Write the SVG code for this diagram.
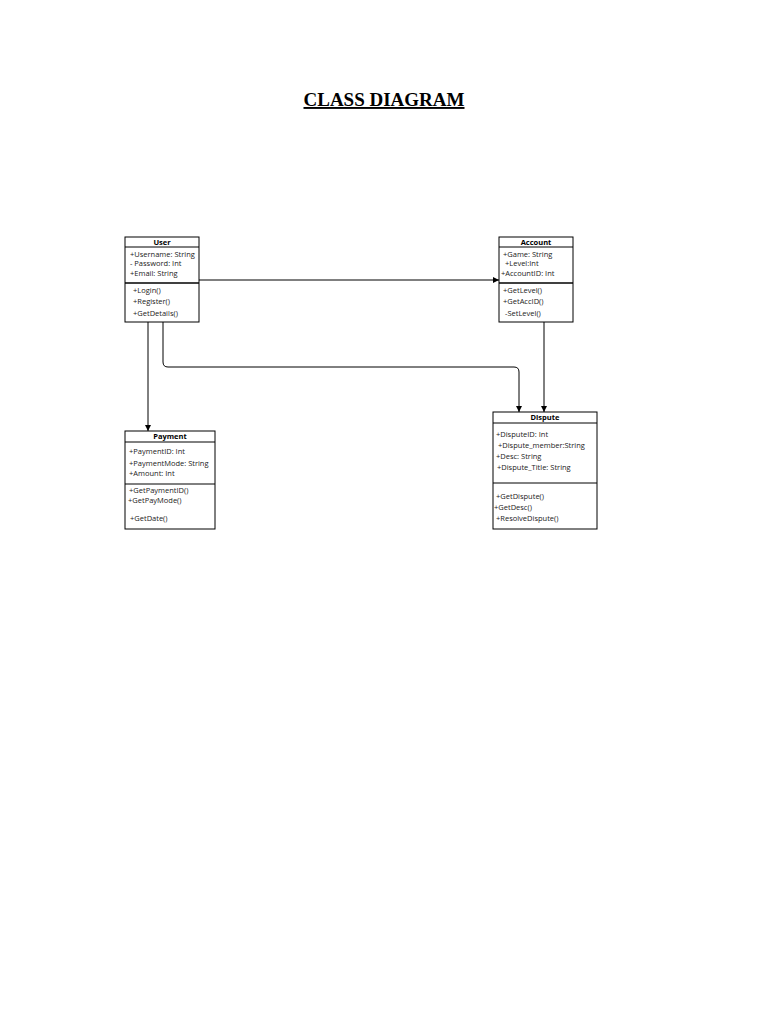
<svg xmlns="http://www.w3.org/2000/svg" width="768" height="1024" viewBox="0 0 768 1024">
<defs>
<marker id="ah" viewBox="0 0 10 10" refX="10" refY="5" markerWidth="6" markerHeight="6" orient="auto"><path d="M0,0L10,5L0,10z" fill="#000"/></marker>
<style>
.box{fill:#fff;stroke:#000;stroke-width:1}
.t{font-family:"Open Sans","Liberation Sans",sans-serif;font-size:7.5px;fill:#222}
.h{font-family:"Open Sans","Liberation Sans",sans-serif;font-size:7.5px;font-weight:bold;fill:#000}
.c{fill:none;stroke:#000;stroke-width:1;marker-end:url(#ah)}
</style>
</defs>
<rect width="768" height="1024" fill="#fff"/>
<text x="384" y="106" text-anchor="middle" font-family="Liberation Serif,serif" font-size="19" font-weight="bold" text-decoration="underline">CLASS DIAGRAM</text>
<g id="connectors">
<path class="c" d="M199,280H499"/>
<path class="c" d="M148,322V431"/>
<path class="c" d="M163,322V362Q163,367 168,367H514Q519,367 519,372V412"/>
<path class="c" d="M544,322V412"/>
</g>
<g id="user">
<rect class="box" x="125" y="237" width="74" height="85"/>
<line x1="125" y1="247" x2="199" y2="247" stroke="#000"/>
<line x1="125" y1="283" x2="199" y2="283" stroke="#000" stroke-width="1.6"/>
<text class="h" x="162" y="244.5" text-anchor="middle">User</text>
<text class="t" x="130" y="257">+Username: String</text>
<text class="t" x="130" y="266">- Password: Int</text>
<text class="t" x="130" y="276">+Email: String</text>
<text class="t" x="133" y="293">+Login()</text>
<text class="t" x="133" y="304">+Register()</text>
<text class="t" x="133" y="316">+GetDetails()</text>
</g>
<g id="account">
<rect class="box" x="499" y="237" width="74" height="85"/>
<line x1="499" y1="247" x2="573" y2="247" stroke="#000"/>
<line x1="499" y1="283" x2="573" y2="283" stroke="#000" stroke-width="1.6"/>
<text class="h" x="536" y="244.5" text-anchor="middle">Account</text>
<text class="t" x="503" y="257">+Game: String</text>
<text class="t" x="505" y="266">+Level:Int</text>
<text class="t" x="501" y="276">+AccountID: Int</text>
<text class="t" x="503" y="293">+GetLevel()</text>
<text class="t" x="503" y="304">+GetAccID()</text>
<text class="t" x="505" y="316">-SetLevel()</text>
</g>
<g id="payment">
<rect class="box" x="125" y="431" width="90" height="98"/>
<line x1="125" y1="442" x2="215" y2="442" stroke="#000"/>
<line x1="125" y1="484" x2="215" y2="484" stroke="#000"/>
<text class="h" x="170" y="439" text-anchor="middle">Payment</text>
<text class="t" x="129" y="454">+PaymentID: Int</text>
<text class="t" x="129" y="466">+PaymentMode: String</text>
<text class="t" x="129" y="476">+Amount: Int</text>
<text class="t" x="129" y="493">+GetPaymentID()</text>
<text class="t" x="128" y="503">+GetPayMode()</text>
<text class="t" x="130" y="521">+GetDate()</text>
</g>
<g id="dispute">
<rect class="box" x="493" y="412" width="104" height="117"/>
<line x1="493" y1="423" x2="597" y2="423" stroke="#000"/>
<line x1="493" y1="483" x2="597" y2="483" stroke="#000"/>
<text class="h" x="545" y="420" text-anchor="middle">Dispute</text>
<text class="t" x="496" y="437">+DisputeID: Int</text>
<text class="t" x="498" y="448">+Dispute_member:String</text>
<text class="t" x="496" y="459">+Desc: String</text>
<text class="t" x="497" y="470">+Dispute_Title: String</text>
<text class="t" x="496" y="499">+GetDispute()</text>
<text class="t" x="494" y="510">+GetDesc()</text>
<text class="t" x="496" y="521">+ResolveDispute()</text>
</g>
</svg>
